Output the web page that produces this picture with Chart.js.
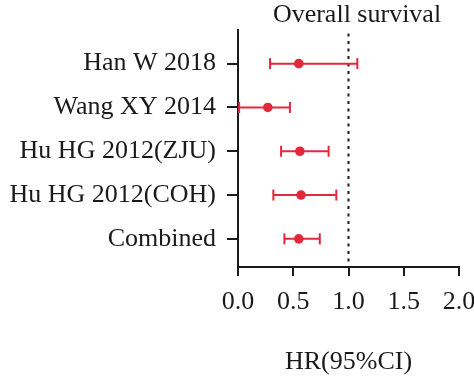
<!DOCTYPE html>
<html>
<head>
<meta charset="utf-8">
<script src="https://cdn.jsdelivr.net/npm/chart.js@4/dist/chart.umd.min.js"></script>
<style>
html,body{margin:0;padding:0;background:#fff;}
#wrap{width:474px;height:379px;position:relative;}
</style>
</head>
<body>
<div id="wrap"><canvas id="c" width="474" height="379"></canvas></div>
<script>
const studies = ['Han W 2018', 'Wang XY 2014', 'Hu HG 2012(ZJU)', 'Hu HG 2012(COH)', 'Combined'];
const hr    = [0.55, 0.27, 0.56, 0.57, 0.55];
const lower = [0.29, 0.01, 0.39, 0.32, 0.42];
const upper = [1.08, 0.47, 0.82, 0.89, 0.74];
const xTicks = ['0.0', '0.5', '1.0', '1.5', '2.0'];
const refValue = 1.0;
const chartTitle = 'Overall survival';
const xTitle = 'HR(95%CI)';

const RED = '#e2283b';
const INK = '#1a1a1a';
const FONT = "'Liberation Serif', 'DejaVu Serif', serif";
const yMin = -0.77, yMax = 4.64;

const datasets = [];
studies.forEach((s, i) => {
  datasets.push({
    label: s + ' CI',
    data: [{x: lower[i], y: i}, {x: upper[i], y: i}],
    showLine: true,
    borderColor: RED,
    borderWidth: 2,
    pointStyle: 'line',
    rotation: 90,
    pointRadius: 5.5,
    pointBorderWidth: 2,
    pointBorderColor: RED,
    pointBackgroundColor: RED
  });
});
datasets.push({
  label: 'HR',
  data: studies.map((s, i) => ({x: hr[i], y: i})),
  showLine: false,
  pointStyle: 'circle',
  pointRadius: 4.8,
  pointBorderWidth: 0,
  pointBackgroundColor: RED,
  pointBorderColor: RED
});
datasets.push({
  label: 'ref',
  data: [{x: refValue, y: yMin + 0.08}, {x: refValue, y: yMax}],
  showLine: true,
  borderColor: INK,
  borderWidth: 2,
  borderDash: [3, 4.5],
  pointRadius: 0
});

const shiftTitle = {
  id: 'shiftTitle',
  afterLayout(chart) {
    const t = chart.titleBlock;
    if (t) { t.left += 8.5; t.right += 8.5; }
  }
};

new Chart(document.getElementById('c'), {
  type: 'scatter',
  data: {datasets},
  plugins: [shiftTitle],
  options: {
    responsive: false,
    animation: false,
    events: [],
    layout: {padding: {left: 0, right: 0, top: 0, bottom: 2}},
    plugins: {
      legend: {display: false},
      tooltip: {enabled: false},
      title: {
        display: true,
        text: chartTitle,
        fullSize: false,
        color: INK,
        font: {family: FONT, size: 26, weight: 'normal', lineHeight: 1.15},
        padding: {top: 0, bottom: 0}
      }
    },
    scales: {
      x: {
        type: 'linear',
        min: 0, max: 2,
        afterFit: (s) => { s.paddingRight = 15; },
        ticks: {
          stepSize: 0.5,
          color: INK,
          padding: 11,
          font: {family: FONT, size: 26},
          callback: (v) => xTicks[Math.round(v / 0.5)] ?? ''
        },
        grid: {drawOnChartArea: false, drawTicks: true, tickLength: 9, color: INK, lineWidth: 2},
        border: {display: true, color: INK, width: 2},
        title: {
          display: true, text: xTitle, color: INK,
          font: {family: FONT, size: 26, lineHeight: 1.15},
          padding: {top: 18, bottom: 0}
        }
      },
      y: {
        type: 'linear',
        reverse: true,
        min: yMin, max: yMax,
        afterBuildTicks: (axis) => { axis.ticks = studies.map((s, i) => ({value: i})); },
        afterFit: (s) => { s.width = 238; },
        ticks: {
          color: INK,
          padding: 11,
          font: {family: FONT, size: 26},
          callback: (v) => studies[v] ?? ''
        },
        grid: {drawOnChartArea: false, drawTicks: true, tickLength: 11, color: INK, lineWidth: 2},
        border: {display: true, color: INK, width: 2}
      }
    }
  }
});
</script>
</body>
</html>
